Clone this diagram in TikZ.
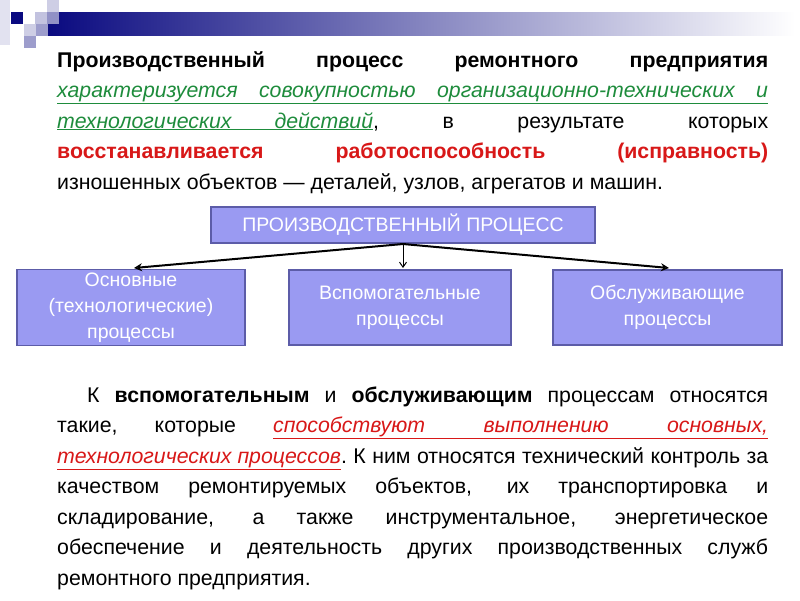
\documentclass[tikz,border=0pt]{standalone}
\usepackage{fontspec}
\setmainfont{Liberation Sans}
\usetikzlibrary{arrows.meta}
\definecolor{navy}{HTML}{0A0A80}
\definecolor{boxfill}{HTML}{9A9AF2}
\definecolor{boxline}{HTML}{5C5CA8}
\definecolor{grn}{HTML}{1E8C3C}
\definecolor{redt}{HTML}{D81818}
\newcommand{\jl}[1]{\makebox[711pt][s]{#1}}
\tikzset{
 txt/.style={anchor=base west,inner sep=0pt,font=\fontsize{21.3}{23}\selectfont},
 pbox/.style={draw=boxline,line width=1.3pt,fill=boxfill,text=white,align=center,font=\fontsize{19.5}{26}\selectfont},
 arr/.style={-{Stealth[length=8pt,width=8pt,open]},line width=2pt}
}
\begin{document}
\begin{tikzpicture}[x=1pt,y=-1pt]
\useasboundingbox (0,0) rectangle (800,600);
\fill[white] (0,0) rectangle (800,600);
% header decoration
\shade[left color=navy,right color=white] (48,12) rectangle (795,35);
\fill[navy!12] (0,0) rectangle (10,45);
\fill[navy] (11,12) rectangle (23,24);
\fill[navy!25] (35,12) rectangle (47,24);
\fill[navy!20] (47,0) rectangle (59,12);
\fill[navy!45] (47,12) rectangle (59,24);
\fill[navy!20] (24,24) rectangle (36,36);
\fill[navy!40] (36,24) rectangle (48,36);
\fill[navy!40] (24,36) rectangle (36,48);
% paragraph 1
\node[txt] (l1) at (57,67) {\jl{\textbf{Производственный процесс ремонтного предприятия}}};
\node[txt] (l2) at (57,97) {\color{grn}\itshape\underline{\jl{характеризуется совокупностью организационно-технических и}}};
\node[txt] (l3) at (57,128) {\hbox to 711pt{\color{grn}\itshape\underline{\hbox to 316pt{технологических\hfill действий}}\color{black}\upshape,\hfill в\hfill результате\hfill которых}};
\node[txt] (l4) at (57,158) {\color{redt}\bfseries\jl{восстанавливается работоспособность (исправность)}};
\node[txt] (l5) at (57,189) {изношенных объектов — деталей, узлов, агрегатов и машин.};
% diagram
\node[pbox,minimum width=384pt,minimum height=36pt] (top) at (403,225) {ПРОИЗВОДСТВЕННЫЙ ПРОЦЕСС};
\node[pbox,minimum width=228pt,minimum height=75pt] (b1) at (131,307.5) {Основные\\(технологические)\\процессы};
\node[pbox,minimum width=222pt,minimum height=75pt] (b2) at (400,307.5) {Вспомогательные\\процессы};
\node[pbox,minimum width=229pt,minimum height=75pt] (b3) at (667.5,307.5) {Обслуживающие\\процессы};
\coordinate (hub) at (403,244);
\draw[arr] (hub) -- (134,268);
\draw[arr] (hub) -- (669,268);
\draw[-{Straight Barb[length=5pt,width=7pt]},line width=1pt] (hub) -- (403,268);
% paragraph 2
\node[txt] (m1) at (87,402) {\hbox to 681pt{К\hfill \textbf{вспомогательным}\hfill и\hfill \textbf{обслуживающим}\hfill процессам\hfill относятся}};
\node[txt] (m2) at (57,432) {\hbox to 711pt{такие,\hfill которые\hfill \color{redt}\itshape\underline{\hbox to 495pt{способствуют\hfill выполнению\hfill основных,}}}};
\node[txt] (m3) at (57,463) {\hbox to 711pt{\color{redt}\itshape\underline{технологических процессов}\color{black}\upshape.\hfill К\hfill ним\hfill относятся\hfill технический\hfill контроль\hfill за}};
\node[txt] (m4) at (57,493) {\jl{качеством ремонтируемых объектов, их транспортировка и}};
\node[txt] (m5) at (57,524) {\jl{складирование, а также инструментальное, энергетическое}};
\node[txt] (m6) at (57,554) {\jl{обеспечение и деятельность других производственных служб}};
\node[txt] (m7) at (57,585) {ремонтного предприятия.};
\end{tikzpicture}
\end{document}
